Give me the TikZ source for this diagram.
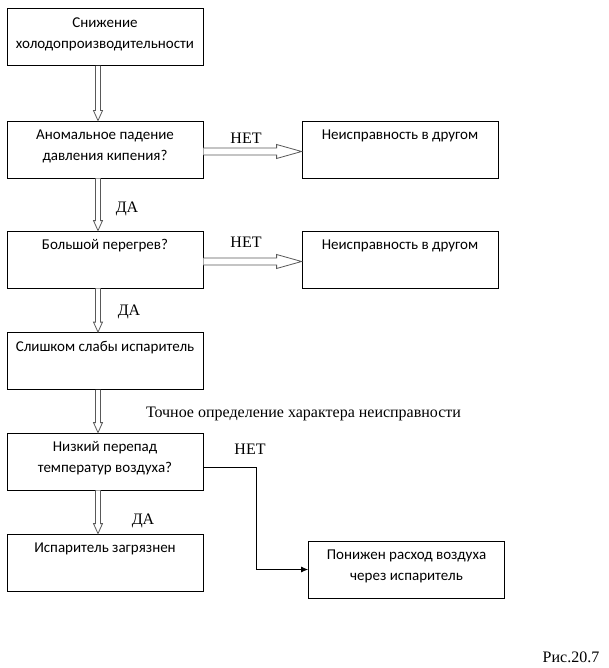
\documentclass[tikz,border=0pt]{standalone}
\usepackage{fontspec}
\setmainfont{Liberation Serif}
\newfontfamily\boxfont{Carlito}
\usetikzlibrary{arrows.meta}

\tikzset{
  box/.style={draw, line width=0.8pt, minimum width=196pt, minimum height=57pt, inner sep=0pt},
  hollow/.style={draw=black!65, line width=0.8pt, fill=white, line join=miter},
  lbl/.style={font=\fontsize{16}{19}\selectfont}
}
\newcommand\boxtext[1]{\parbox[c][49pt][t]{190pt}{\centering\boxfont\fontsize{15}{21}\selectfont\strut #1}}
% hollow block arrow from #1.south down to #2.north
\newcommand\hollowdn[2]{%
  \draw[hollow] ([xshift=-9.5pt]#1.south) -- ([xshift=-9.5pt,yshift=10pt]#2.north)
    -- ([xshift=-11.5pt,yshift=10pt]#2.north) -- ([xshift=-7pt]#2.north)
    -- ([xshift=-2.5pt,yshift=10pt]#2.north) -- ([xshift=-4.5pt,yshift=10pt]#2.north)
    -- ([xshift=-4.5pt]#1.south);}
% hollow block arrow from #1.east right to #2.west
\newcommand\hollowrt[2]{%
  \draw[hollow] ([yshift=1.5pt]#1.east) -- ([xshift=-25pt,yshift=1.5pt]#2.west)
    -- ([xshift=-25pt,yshift=5pt]#2.west) -- ([yshift=-2pt]#2.west)
    -- ([xshift=-25pt,yshift=-9pt]#2.west) -- ([xshift=-25pt,yshift=-5.5pt]#2.west)
    -- ([yshift=-5.5pt]#1.east);}

\begin{document}
\begin{tikzpicture}[x=1pt, y=-1pt]
\useasboundingbox (0,0) rectangle (609,668);
% left column
\node[box] (cool) at (105,37) {\boxtext{Снижение\\холодопроизводительности}};
\node[box] (pdrop) at (105,149.5) {\boxtext{Аномальное падение\\давления кипения?}};
\node[box] (heat) at (105,259.5) {\boxtext{Большой перегрев?}};
\node[box] (weak) at (105,361) {\boxtext{Слишком слабы испаритель}};
\node[box] (dtlow) at (105,461.5) {\boxtext{Низкий перепад\\температур воздуха?}};
\node[box] (dirty) at (105,562.5) {\boxtext{Испаритель загрязнен}};
% right column
\node[box] (other1) at (400,149.5) {\boxtext{Неисправность в другом}};
\node[box] (other2) at (400,259.5) {\boxtext{Неисправность в другом}};
\node[box] (airlow) at (406.5,569.5) {\boxtext{Понижен расход воздуха\\через испаритель}};
% labels
\node[lbl] (no1) at (246,138) {НЕТ};
\node[lbl] (no2) at (246,242) {НЕТ};
\node[lbl] (no3) at (250,449) {НЕТ};
\node[lbl] (yes1) at (127,209) {ДА};
\node[lbl] (yes2) at (129,312) {ДА};
\node[lbl] (yes3) at (143,521) {ДА};
\node[lbl] (exact) at (303.5,414) {Точное определение характера неисправности};
\node[lbl] (fig) at (571,657) {Рис.20.7};
% arrows
\hollowdn{cool}{pdrop}
\hollowdn{pdrop}{heat}
\hollowdn{heat}{weak}
\hollowdn{weak}{dtlow}
\hollowdn{dtlow}{dirty}
\hollowrt{pdrop}{other1}
\hollowrt{heat}{other2}
\draw[line width=0.8pt, -{Latex[length=7pt, width=6pt]}] ([yshift=-5.5pt]dtlow.east) -- ++(52.7,0) |- (airlow.west);
\end{tikzpicture}
\end{document}
